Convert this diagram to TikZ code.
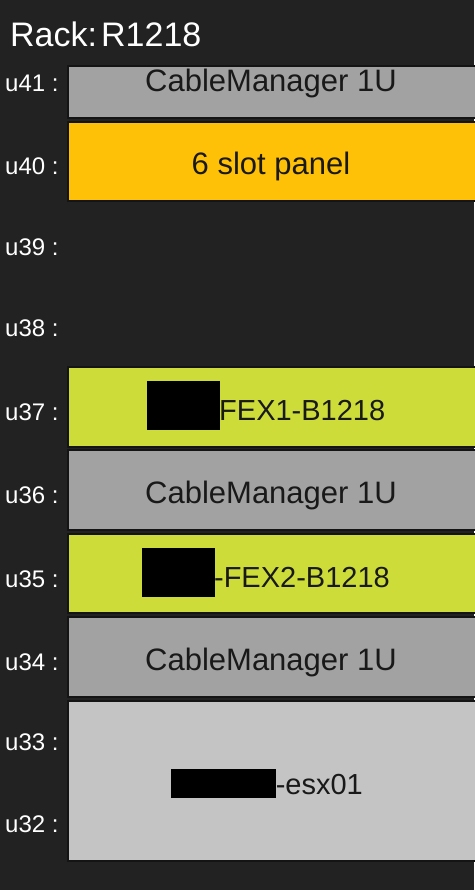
\documentclass[tikz,border=0pt]{standalone}
\usepackage{fontspec}
\setmainfont{Liberation Sans}
\definecolor{rackbg}{HTML}{222222}
\definecolor{cmgray}{HTML}{A2A2A2}
\definecolor{panelamber}{HTML}{FFC107}
\definecolor{fexlime}{HTML}{CDDC39}
\definecolor{hostgray}{HTML}{C4C4C4}
\definecolor{slotedge}{HTML}{141414}

\begin{document}
\begin{tikzpicture}[x=1pt,y=-1pt,
    slot/.style={draw=slotedge,line width=1.2pt},
    unitlabel/.style={anchor=base west,inner sep=0pt,text=white,font=\fontsize{24}{24}\selectfont},
    slottext/.style={anchor=base,inner sep=0pt,text=black!90,font=\fontsize{31}{31}\selectfont},
    hosttext/.style={slottext,font=\fontsize{29}{29}\selectfont},
    redact/.style={fill=black}]
        \fill[rackbg] (0,0) rectangle (474,890);
        \useasboundingbox (0,0) rectangle (474,890);
        \node[anchor=base west,inner sep=0pt,text=white,font=\fontsize{34}{34}\selectfont] (title) at (10,47) {Rack:\hspace{0.12em}R1218};
        % unit labels
        \foreach \u/\y in {41/92,40/175,39/255,38/336,37/420,36/503,35/587,34/670,33/750,32/832}
            \node[unitlabel] (lab\u) at (5,\y) {u\u\ :};
        % rack contents
        \draw[slot,fill=cmgray] (68,66) rectangle (477,118);
        \node[slottext] (cm41) at (271,92) {CableManager 1U};
        \draw[slot,fill=panelamber] (68,122) rectangle (477,201);
        \node[slottext] (panel40) at (271,175) {6 slot panel};
        \draw[slot,fill=fexlime] (68,367) rectangle (477,447);
        \node[hosttext,anchor=base west] (fex37) at (219,420) {FEX1-B1218};
        \fill[redact] (147,381) rectangle (220,430);
        \draw[slot,fill=cmgray] (68,450) rectangle (477,530);
        \node[slottext] (cm36) at (271,503) {CableManager 1U};
        \draw[slot,fill=fexlime] (68,534) rectangle (477,613);
        \node[hosttext,anchor=base east] (fex35) at (390,587) {-FEX2-B1218};
        \fill[redact] (142,548) rectangle (215,597);
        \draw[slot,fill=cmgray] (68,617) rectangle (477,697);
        \node[slottext] (cm34) at (271,670) {CableManager 1U};
        \draw[slot,fill=hostgray] (68,701) rectangle (477,861);
        \node[hosttext,anchor=base east] (esx32) at (363,794) {-esx01};
        \fill[redact] (171,769) rectangle (276,798);
\end{tikzpicture}
\end{document}
